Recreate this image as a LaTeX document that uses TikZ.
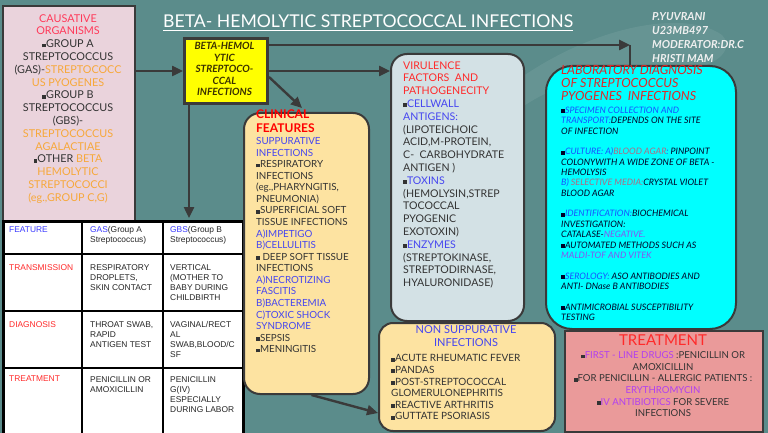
\documentclass[tikz,border=0pt]{standalone}
\usepackage{fontspec}
\setmainfont{Lato}
\newfontfamily\tabfont{Liberation Sans}
\usetikzlibrary{arrows.meta,calc}
\definecolor{bgteal}{HTML}{5B8C8B}
\definecolor{bordc}{HTML}{3A3A3A}
\definecolor{pinkfill}{HTML}{EAD3DC}
\definecolor{yelfill}{HTML}{FFFF00}
\definecolor{yeltext}{HTML}{3A3000}
\definecolor{clinfill}{HTML}{FDE3A1}
\definecolor{virfill}{HTML}{D3E1E5}
\definecolor{labfill}{HTML}{00FFFF}
\definecolor{treatfill}{HTML}{EA9A9A}
\definecolor{txtdark}{HTML}{333333}
\definecolor{cred}{HTML}{FF2A2A}
\definecolor{cpink}{HTML}{FF3A5A}
\definecolor{labred}{HTML}{E02828}
\definecolor{corange}{HTML}{F7A83A}
\definecolor{cblue}{HTML}{4646F0}
\definecolor{labblue}{HTML}{1A50FF}
\definecolor{cmauve}{HTML}{B06A82}
\definecolor{cviolet}{HTML}{8A50F0}
\definecolor{cpurple}{HTML}{B040F0}
\definecolor{tabblue}{HTML}{3A3AFF}
\newcommand\mysq{\rule[0.3pt]{3.8pt}{3.8pt}}
\begin{document}
\begin{tikzpicture}[x=1pt,y=-1pt,
  box/.style={draw=bordc,line width=2pt,anchor=north west,inner sep=0pt},
  txt/.style={inner sep=0pt,text=txtdark},
  tabtxt/.style={inner sep=0pt,anchor=north west,align=left,text=black!85,font=\tabfont\fontsize{8.4}{10.2}\selectfont},
  arr/.style={draw=bordc,line width=2.4pt,-{Triangle[length=11pt,width=10pt]}},
  ]
\fill[bgteal] (0,0) rectangle (768,433);
\useasboundingbox (0,0) rectangle (768,433);
% faint background swoosh
\fill[white,opacity=0.07] (470,120) .. controls (560,30) and (680,5) .. (722,35) .. controls (740,55) and (700,78) .. (640,72) .. controls (580,70) and (520,100) .. (490,135) -- cycle;

% title and author
\node[txt,text=white,anchor=north west,font=\fontsize{17.6}{20}\selectfont] (title) at (163,14.4) {BETA- HEMOLYTIC STREPTOCOCCAL INFECTIONS};
\draw[white,line width=1.2pt] ([yshift=-3pt]title.south west) -- ([yshift=-3pt]title.south east);
\node[txt,text=white!94!black,anchor=north west,align=left,font=\bfseries\itshape\fontsize{11}{14}\selectfont] (auth) at (652,12) {P.YUVRANI\\U23MB497\\MODERATOR:DR.C\\HRISTI MAM};

% causative organisms
\node[box,fill=pinkfill,minimum width=132pt,minimum height=215pt] (caus) at (2,5) {};
\node[txt,anchor=north,align=center,font=\fontsize{10.8}{12.8}\selectfont] (caustxt) at (68,14) {{\color{cpink}CAUSATIVE}\\{\color{cpink}ORGANISMS}\\\mysq GROUP A\\STREPTOCOCCUS\\(GAS)-{\color{corange}STREPTOCOCC}\\{\color{corange}US PYOGENES}\\\mysq GROUP B\\STREPTOCOCCUS\\(GBS)-\\{\color{corange}STREPTOCOCCUS}\\{\color{corange}AGALACTIAE}\\\mysq OTHER {\color{corange}BETA}\\{\color{corange}HEMOLYTIC}\\{\color{corange}STREPTOCOCCI}\\{\color{corange}(eg.,GROUP C,G)}};

% table
\node[box,draw=black,line width=2.5pt,fill=white,minimum width=240pt,minimum height=220pt] (tab) at (2,220) {};
\draw[black,line width=2.5pt] (82,220) -- (82,440) (163,220) -- (163,440)
  (2,254) -- (242,254) (2,311) -- (242,311) (2,368) -- (242,368);
\node[tabtxt] (c11) at (9,226.8) {{\color{tabblue}FEATURE}};
\node[tabtxt] (c12) at (90,226.5) {{\color{tabblue}GAS}(Group A\\Streptococcus)};
\node[tabtxt] (c13) at (170,226.5) {{\color{tabblue}GBS}(Group B\\Streptococcus)};
\node[tabtxt] (c21) at (9,264) {{\color{cred}TRANSMISSION}};
\node[tabtxt] (c22) at (90,264) {RESPIRATORY\\DROPLETS,\\SKIN CONTACT};
\node[tabtxt] (c23) at (170,264) {VERTICAL\\(MOTHER TO\\BABY DURING\\CHILDBIRTH};
\node[tabtxt] (c31) at (9,321) {{\color{cred}DIAGNOSIS}};
\node[tabtxt] (c32) at (90,321) {THROAT SWAB,\\RAPID\\ANTIGEN TEST};
\node[tabtxt] (c33) at (170,321) {VAGINAL/RECT\\AL\\SWAB,BLOOD/C\\SF};
\node[tabtxt] (c41) at (9,376) {{\color{cred}TREATMENT}};
\node[tabtxt] (c42) at (90,376) {PENICILLIN OR\\AMOXICILLIN};
\node[tabtxt] (c43) at (170,376) {PENICILLIN\\G(IV)\\ESPECIALLY\\DURING LABOR};
\coordinate (tabtop) at (c13.north |- tab.north);

% central yellow box
\node[box,fill=yelfill,line width=3pt,minimum width=83pt,minimum height=65pt] (yel) at (183,37) {};
\node[txt,anchor=north,align=center,text=yeltext,font=\bfseries\itshape\fontsize{10}{11.5}\selectfont] (yeltxt) at (224.5,42) {BETA-HEMOL\\YTIC\\STREPTOCO-\\CCAL\\INFECTIONS};

% clinical features
\node[box,fill=clinfill,rounded corners=16pt,minimum width=125pt,minimum height=281pt] (clin) at (243,112) {};
% virulence
\node[box,fill=virfill,rounded corners=16pt,minimum width=133pt,minimum height=267pt] (vir) at (390,53) {};
% lab diagnosis
\node[box,fill=labfill,rounded corners=26pt,minimum width=190pt,minimum height=263pt] (lab) at (545,65) {};
% non suppurative
\node[box,fill=clinfill,rounded corners=14pt,minimum width=176pt,minimum height=108pt] (ns) at (378,322) {};
% treatment
\node[box,fill=treatfill,minimum width=198pt,minimum height=101pt] (treat) at (564,330) {};

% connectors
\draw[arr] (caus.east |- yel.west) -- (yel.west);
\coordinate (elbow) at (630,45);
\draw[arr] ([yshift=-8pt]yel.north east) -- (elbow);
\draw[bordc,line width=2.4pt] (elbow) -- (elbow |- lab.north);
\draw[arr] (yel.east) -- (vir.west |- yel.east);
\draw[arr] ([yshift=-6pt]yel.east) -- ([xshift=59pt,yshift=4pt]clin.north west);
\coordinate (dtop) at ([xshift=6pt]yel.south west);
\draw[arr,shorten >=2pt] (dtop) -- (dtop |- tabtop);
\draw[arr] ([xshift=5pt]clin.south) -- ([yshift=-36pt]ns.west);

% texts of boxes
\node[txt,anchor=north west,align=left,text=red,font=\bfseries\fontsize{12}{14}\selectfont] (clintitle) at (256,109.5) {CLINICAL\\FEATURES};
\node[txt,anchor=north west,align=left,font=\fontsize{9.8}{11.56}\selectfont] (clinbody) at (256,137.3) {{\color{cblue}SUPPURATIVE}\\{\color{cblue}INFECTIONS}\\\mysq RESPIRATORY\\INFECTIONS\\(eg.,PHARYNGITIS,\\PNEUMONIA)\\\mysq SUPERFICIAL SOFT\\TISSUE INFECTIONS\\{\color{cblue}A)IMPETIGO}\\{\color{cblue}B)CELLULITIS}\\\mysq\ DEEP SOFT TISSUE\\INFECTIONS\\{\color{cblue}A)NECROTIZING}\\{\color{cblue}FASCITIS}\\{\color{cblue}B)BACTEREMIA}\\{\color{cblue}C)TOXIC SHOCK}\\{\color{cblue}SYNDROME}\\\mysq SEPSIS\\\mysq MENINGITIS};

\node[txt,anchor=north west,align=left,font=\fontsize{10.6}{12.8}\selectfont] (virtxt) at (403,61.2) {{\color{cred}VIRULENCE}\\{\color{cred}FACTORS\ \ AND}\\{\color{cred}PATHOGENECITY}\\\mysq{\color{cblue}CELLWALL}\\{\color{cblue}ANTIGENS:}\\(LIPOTEICHOIC\\ACID,M-PROTEIN,\\C-\ \ CARBOHYDRATE\\ANTIGEN )\\\mysq{\color{cblue}TOXINS}\\(HEMOLYSIN,STREP\\TOCOCCAL\\PYOGENIC\\EXOTOXIN)\\\mysq{\color{cblue}ENZYMES}\\(STREPTOKINASE,\\STREPTODIRNASE,\\HYALURONIDASE)};

\node[txt,anchor=north west,align=left,text=labred,font=\itshape\fontsize{12.6}{13}\selectfont] (labtitle) at (561,65.5) {LABORATORY DIAGNOSIS\\OF STREPTOCOCCUS\\PYOGENES\ \ INFECTIONS};
\node[txt,anchor=north west,align=left,text=black!85!blue,font=\itshape\fontsize{8.9}{10.35}\selectfont] (labbody) at (561,106.8) {\mysq{\color{labblue}SPECIMEN COLLECTION AND}\\{\color{labblue}TRANSPORT:}DEPENDS ON THE SITE\\OF INFECTION\\\mbox{}\\\mysq{\color{labblue}CULTURE: A)}{\color{cmauve}BLOOD AGAR}{\color{labblue}:} PINPOINT\\COLONYWITH A WIDE ZONE OF BETA -\\HEMOLYSIS\\{\color{labblue}B)} {\color{cmauve}SELECTIVE MEDIA:}CRYSTAL VIOLET\\BLOOD AGAR\\\mbox{}\\\mysq{\color{labblue}IDENTIFICATION:}BIOCHEMICAL\\INVESTIGATION:\\CATALASE-{\color{cviolet}NEGATIVE.}\\\mysq AUTOMATED METHODS SUCH AS\\{\color{cviolet}MALDI-TOF AND VITEK}\\\mbox{}\\\mysq{\color{labblue}SEROLOGY:} ASO ANTIBODIES AND\\ANTI- DNase B ANTIBODIES\\\mbox{}\\\mysq ANTIMICROBIAL SUSCEPTIBILITY\\TESTING};

\node[txt,anchor=north,align=center,text=cblue,font=\fontsize{11}{13}\selectfont] (nstitle) at (466,325) {NON SUPPURATIVE\\INFECTIONS};
\node[txt,anchor=north west,align=left,font=\fontsize{10}{11.6}\selectfont] (nsbody) at (391,354.4) {\mysq ACUTE RHEUMATIC FEVER\\\mysq PANDAS\\\mysq POST-STREPTOCOCCAL\\GLOMERULONEPHRITIS\\\mysq REACTIVE ARTHRITIS\\\mysq GUTTATE PSORIASIS};

\node[txt,anchor=north,text=cred,font=\fontsize{15}{16}\selectfont] (treattitle) at (663,334.6) {TREATMENT};
\node[txt,anchor=north,align=center,font=\fontsize{9.6}{11.6}\selectfont] (treatbody) at (663,351.5) {\mysq{\color{cpurple}FIRST - LINE DRUGS }:PENICILLIN OR\\AMOXICILLIN\\\mysq FOR PENICILLIN - ALLERGIC PATIENTS :\\{\color{cpurple}ERYTHROMYCIN}\\\mysq{\color{cpurple}IV ANTIBIOTICS} FOR SEVERE\\INFECTIONS};
\end{tikzpicture}
\end{document}
